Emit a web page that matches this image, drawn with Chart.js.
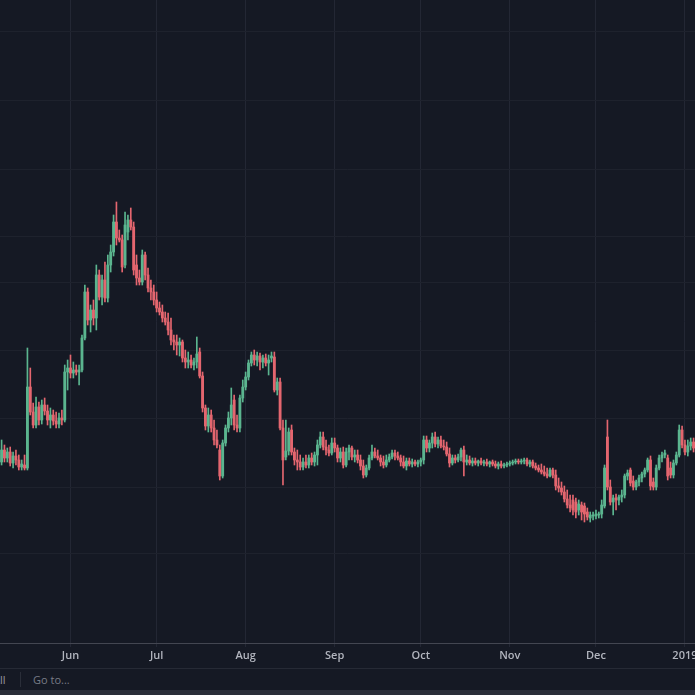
<!DOCTYPE html>
<html>
<head>
<meta charset="utf-8">
<script src="https://cdn.jsdelivr.net/npm/chart.js@4.4.1/dist/chart.umd.min.js"></script>
<style>
html,body{margin:0;padding:0;background:#151924;overflow:hidden;}
#wrap{position:relative;width:695px;height:695px;background:#151924;overflow:hidden;}
canvas{display:block;position:absolute;left:0;top:0;}
#bar{position:absolute;left:0;top:668px;width:695px;height:21px;border-top:1px solid #262a35;background:#151924;font:11px 'Open Sans',sans-serif;color:#787b86;overflow:hidden;}
#bar .all{position:absolute;left:-7px;top:3px;color:#9598a1;}
#bar .sep{position:absolute;left:20px;top:3px;width:1px;height:15px;background:#2a2e39;}
#bar .go{position:absolute;left:33px;top:3px;}
#bottom{position:absolute;left:0;top:690px;width:695px;height:5px;background:#2a2e39;}
</style>
</head>
<body>
<div id="wrap">
<canvas id="c" width="695" height="668"></canvas>
<div id="bar"><span class="all">All</span><span class="sep"></span><span class="go">Go to...</span></div>
<div id="bottom"></div>
</div>
<script>
// Daily candles starting 2018-05-07
const startDate = '2018-05-07';

const open = [
2.05,1.98,2.10,2.02,2.08,1.97,2.04,2.00,1.93,1.95,
1.92,2.73,2.48,2.35,2.53,2.40,2.55,2.49,2.40,2.45,
2.39,2.36,2.42,2.40,2.88,2.92,2.87,2.90,2.88,2.90,
3.22,3.68,3.40,3.50,3.42,3.85,3.63,3.80,3.62,3.95,
4.08,4.38,4.22,4.20,3.95,4.28,4.40,4.33,3.95,3.82,
3.78,4.05,3.85,3.72,3.68,3.60,3.52,3.48,3.42,3.38,
3.30,3.20,3.18,3.15,3.18,3.02,2.98,3.00,2.95,2.98,
3.08,2.84,2.52,2.34,2.45,2.32,2.20,2.10,1.84,2.17,
2.32,2.42,2.60,2.35,2.32,2.62,2.73,2.83,2.97,3.05,
3.00,3.04,2.98,3.02,2.97,3.02,3.03,2.70,2.78,2.32,
2.03,2.09,2.30,2.08,2.00,1.98,1.93,1.98,1.95,2.02,
1.98,2.05,2.15,2.23,2.13,2.10,2.07,2.17,2.12,2.02,
2.08,1.95,2.08,2.12,2.03,2.05,2.00,1.94,1.85,1.92,
2.02,2.08,2.04,2.02,1.98,1.95,2.00,2.03,2.07,2.04,
2.02,1.98,1.94,1.99,1.96,1.98,1.96,1.98,2.00,2.20,
2.12,2.17,2.23,2.16,2.20,2.14,2.13,2.06,1.97,2.02,
2.00,2.03,2.10,1.98,2.00,1.97,1.99,1.97,1.99,1.97,
1.98,1.96,1.98,1.96,1.94,1.96,1.94,1.95,1.96,1.97,
1.98,1.99,1.98,1.99,2.00,1.96,1.98,1.94,1.92,1.90,
1.88,1.86,1.84,1.90,1.85,1.74,1.72,1.68,1.61,1.55,
1.60,1.58,1.50,1.55,1.54,1.48,1.42,1.44,1.44,1.45,
1.46,1.54,2.23,1.73,1.58,1.62,1.60,1.63,1.65,1.84,
1.90,1.79,1.73,1.78,1.82,1.86,1.90,2.00,1.78,1.73,
1.92,2.02,2.05,2.02,1.92,1.85,1.97,2.05,2.30,2.15,
2.08,2.14,2.18
];
const high = [
2.10,2.20,2.15,2.12,2.13,2.08,2.10,2.05,2.00,2.05,
3.12,2.92,2.57,2.63,2.58,2.60,2.62,2.55,2.52,2.50,
2.48,2.47,2.50,2.95,3.00,3.05,2.98,2.95,2.95,3.25,
3.75,3.72,3.55,3.60,3.95,3.90,3.85,3.98,4.05,4.15,
4.45,4.58,4.30,4.25,4.48,4.45,4.52,4.38,4.05,3.90,
4.10,4.08,3.92,3.80,3.75,3.68,3.58,3.55,3.48,3.47,
3.42,3.25,3.25,3.22,3.20,3.10,3.08,3.05,3.02,3.23,
3.12,2.88,2.55,2.52,2.50,2.40,2.30,2.15,2.20,2.35,
2.48,2.72,2.65,2.45,2.65,2.80,2.88,3.00,3.08,3.10,
3.08,3.07,3.05,3.06,3.05,3.08,3.08,2.82,2.82,2.40,
2.40,2.32,2.35,2.12,2.10,2.05,2.02,2.05,2.05,2.07,
2.08,2.20,2.28,2.28,2.20,2.15,2.22,2.22,2.15,2.12,
2.13,2.12,2.15,2.14,2.10,2.10,2.05,2.00,1.95,2.05,
2.15,2.12,2.10,2.05,2.04,2.05,2.06,2.10,2.10,2.08,
2.05,2.04,2.02,2.02,2.01,2.00,2.00,2.02,2.24,2.24,
2.20,2.27,2.28,2.23,2.24,2.20,2.18,2.12,2.05,2.05,
2.06,2.12,2.14,2.05,2.04,2.02,2.02,2.00,2.02,2.00,
2.01,1.99,2.00,1.99,1.98,1.99,1.97,1.98,1.99,2.00,
2.01,2.01,2.01,2.02,2.02,2.00,2.00,1.97,1.95,1.96,
1.94,1.92,1.92,1.92,1.90,1.82,1.78,1.74,1.70,1.65,
1.65,1.62,1.60,1.58,1.57,1.52,1.48,1.48,1.50,1.48,
1.60,1.95,2.40,1.80,1.65,1.66,1.65,1.70,1.86,1.90,
1.92,1.84,1.80,1.85,1.88,1.92,2.02,2.04,1.82,1.95,
2.05,2.08,2.10,2.05,1.98,2.00,2.08,2.35,2.34,2.20,
2.20,2.22,2.22
];
const low = [
1.98,1.95,1.98,1.98,1.94,1.92,1.95,1.90,1.90,1.90,
1.90,2.45,2.32,2.32,2.35,2.36,2.45,2.35,2.32,2.35,
2.32,2.32,2.35,2.38,2.70,2.82,2.82,2.85,2.75,2.88,
3.20,3.35,3.28,3.35,3.30,3.60,3.55,3.58,3.58,3.88,
4.04,4.15,4.18,3.88,3.92,4.20,4.30,3.85,3.75,3.75,
3.75,3.80,3.68,3.60,3.55,3.48,3.45,3.38,3.35,3.25,
3.15,3.10,3.05,3.04,2.98,2.92,2.92,2.92,2.90,2.92,
2.82,2.48,2.30,2.28,2.28,2.15,2.12,1.80,1.82,2.14,
2.28,2.35,2.30,2.28,2.28,2.58,2.70,2.80,2.94,2.95,
2.94,2.90,2.92,2.94,2.85,2.98,2.68,2.65,2.30,1.75,
2.00,2.05,2.05,1.95,1.90,1.90,1.90,1.92,1.92,1.95,
1.94,1.95,2.12,2.10,2.05,2.04,2.05,2.08,1.98,1.98,
1.92,1.93,2.00,2.00,1.98,1.97,1.90,1.82,1.83,1.90,
2.00,2.02,2.00,1.94,1.92,1.93,1.98,2.01,2.00,2.00,
1.94,1.92,1.90,1.94,1.93,1.94,1.93,1.94,1.96,2.08,
2.08,2.12,2.13,2.12,2.12,2.10,2.04,1.93,1.95,1.97,
1.98,1.99,1.84,1.95,1.95,1.94,1.95,1.94,1.95,1.94,
1.94,1.93,1.94,1.92,1.91,1.92,1.92,1.93,1.94,1.95,
1.96,1.96,1.96,1.96,1.94,1.93,1.92,1.90,1.88,1.86,
1.84,1.82,1.83,1.82,1.70,1.68,1.65,1.58,1.52,1.48,
1.45,1.42,1.45,1.40,1.38,1.40,1.38,1.40,1.41,1.42,
1.42,1.52,1.70,1.55,1.45,1.50,1.55,1.58,1.62,1.80,
1.74,1.70,1.70,1.74,1.78,1.83,1.88,1.70,1.70,1.70,
1.90,1.98,2.02,1.80,1.82,1.82,1.95,2.03,2.12,2.05,
2.04,2.10,2.08
];
const close = [
2.02,2.10,2.02,2.08,1.97,2.04,2.00,1.93,1.96,1.92,
2.73,2.48,2.35,2.53,2.40,2.55,2.49,2.40,2.45,2.39,
2.36,2.42,2.40,2.88,2.92,2.87,2.90,2.88,2.90,3.22,
3.68,3.40,3.50,3.42,3.85,3.63,3.80,3.62,3.95,4.08,
4.38,4.22,4.20,3.93,4.35,4.40,4.33,3.90,3.82,3.78,
4.05,3.85,3.72,3.68,3.60,3.52,3.48,3.42,3.38,3.30,
3.20,3.18,3.15,3.18,3.02,2.98,3.00,2.95,2.98,3.06,
2.84,2.52,2.34,2.45,2.32,2.20,2.15,1.84,2.17,2.32,
2.42,2.55,2.35,2.32,2.62,2.73,2.83,2.97,3.05,3.00,
3.04,2.98,3.02,2.97,3.00,3.04,2.70,2.78,2.32,2.00,
2.09,2.28,2.08,2.00,1.98,1.93,1.98,1.95,2.02,1.98,
2.05,2.15,2.23,2.13,2.10,2.07,2.17,2.12,2.02,2.08,
1.95,2.08,2.12,2.03,2.05,2.00,1.94,1.85,1.92,2.02,
2.08,2.04,2.02,1.98,1.95,2.00,2.03,2.07,2.04,2.02,
1.98,1.94,1.99,1.96,1.98,1.96,1.98,2.00,2.20,2.12,
2.17,2.23,2.16,2.20,2.14,2.13,2.06,1.97,2.02,2.00,
2.03,2.10,1.98,2.00,1.97,1.99,1.97,1.99,1.97,1.98,
1.96,1.98,1.96,1.94,1.96,1.94,1.95,1.96,1.97,1.98,
1.99,1.98,1.99,2.00,1.96,1.98,1.94,1.92,1.90,1.88,
1.86,1.84,1.90,1.85,1.74,1.72,1.68,1.61,1.55,1.52,
1.50,1.48,1.56,1.48,1.46,1.43,1.45,1.45,1.46,1.46,
1.55,1.92,1.73,1.58,1.62,1.60,1.63,1.65,1.84,1.87,
1.77,1.73,1.78,1.82,1.86,1.90,2.00,1.74,1.73,1.92,
2.02,2.05,2.07,1.84,1.85,1.97,2.05,2.30,2.15,2.08,
2.14,2.18,2.12
];

// horizontal price grid levels
const gridLevels = [6.28, 5.60, 4.90, 4.23, 3.78, 3.10, 2.42, 1.73, 1.07];
const monthNames = ['Jan','Feb','Mar','Apr','May','Jun','Jul','Aug','Sep','Oct','Nov','Dec'];

// build date categories and month-start ticks
const base = new Date(startDate + 'T00:00:00Z');
const dates = close.map((_, i) => new Date(base.getTime() + i * 86400000));
const monthTicks = [];
dates.forEach((d, i) => {
  if (d.getUTCDate() === 1) {
    monthTicks.push({ idx: i, label: d.getUTCMonth() === 0 ? String(d.getUTCFullYear()) : monthNames[d.getUTCMonth()] });
  }
});
const tickLabel = {};
monthTicks.forEach(t => { tickLabel[t.idx] = t.label; });

const upColor = '#5bb58f';
const downColor = '#e4666f';
const idx = close.map((_, i) => i);
const colors = idx.map(i => close[i] >= open[i] ? upColor : downColor);

new Chart(document.getElementById('c'), {
  type: 'bar',
  data: {
    datasets: [
      {
        label: 'body',
        data: idx.map(i => ({ x: i, y: [open[i], close[i]] })),
        backgroundColor: colors,
        borderWidth: 0,
        barThickness: 2.2,
        minBarLength: 1,
        grouped: false,
        order: 1
      },
      {
        label: 'wick',
        data: idx.map(i => ({ x: i, y: [low[i], high[i]] })),
        backgroundColor: colors,
        borderWidth: 0,
        barThickness: 1,
        grouped: false,
        order: 2
      }
    ]
  },
  options: {
    responsive: false,
    animation: false,
    layout: { padding: 0 },
    plugins: { legend: { display: false }, tooltip: { enabled: false } },
    scales: {
      x: {
        type: 'linear',
        min: 0.45,
        max: 242.5,
        offset: false,
        grid: { color: '#232734', offset: false, tickLength: 4, drawTicks: true, lineWidth: 1 },
        border: { display: true, color: '#434651' },
        ticks: {
          autoSkip: false,
          maxRotation: 0,
          color: '#b2b5be',
          font: { family: 'Open Sans', size: 11, weight: '600' },
          padding: 2,
          callback: v => (tickLabel[v] !== undefined ? tickLabel[v] : '')
        },
        afterBuildTicks: s => { s.ticks = monthTicks.map(t => ({ value: t.idx })); },
        afterFit: s => { s.height = 25; s.paddingLeft = 0; s.paddingRight = 0; }
      },
      y: {
        position: 'right',
        min: 0.17,
        max: 6.60,
        grid: { color: '#1e222d', drawTicks: false },
        border: { display: false },
        ticks: { display: false },
        afterBuildTicks: s => { s.ticks = gridLevels.map(v => ({ value: v })); },
        afterFit: s => { s.width = 0; }
      }
    }
  }
});
</script>
</body>
</html>
